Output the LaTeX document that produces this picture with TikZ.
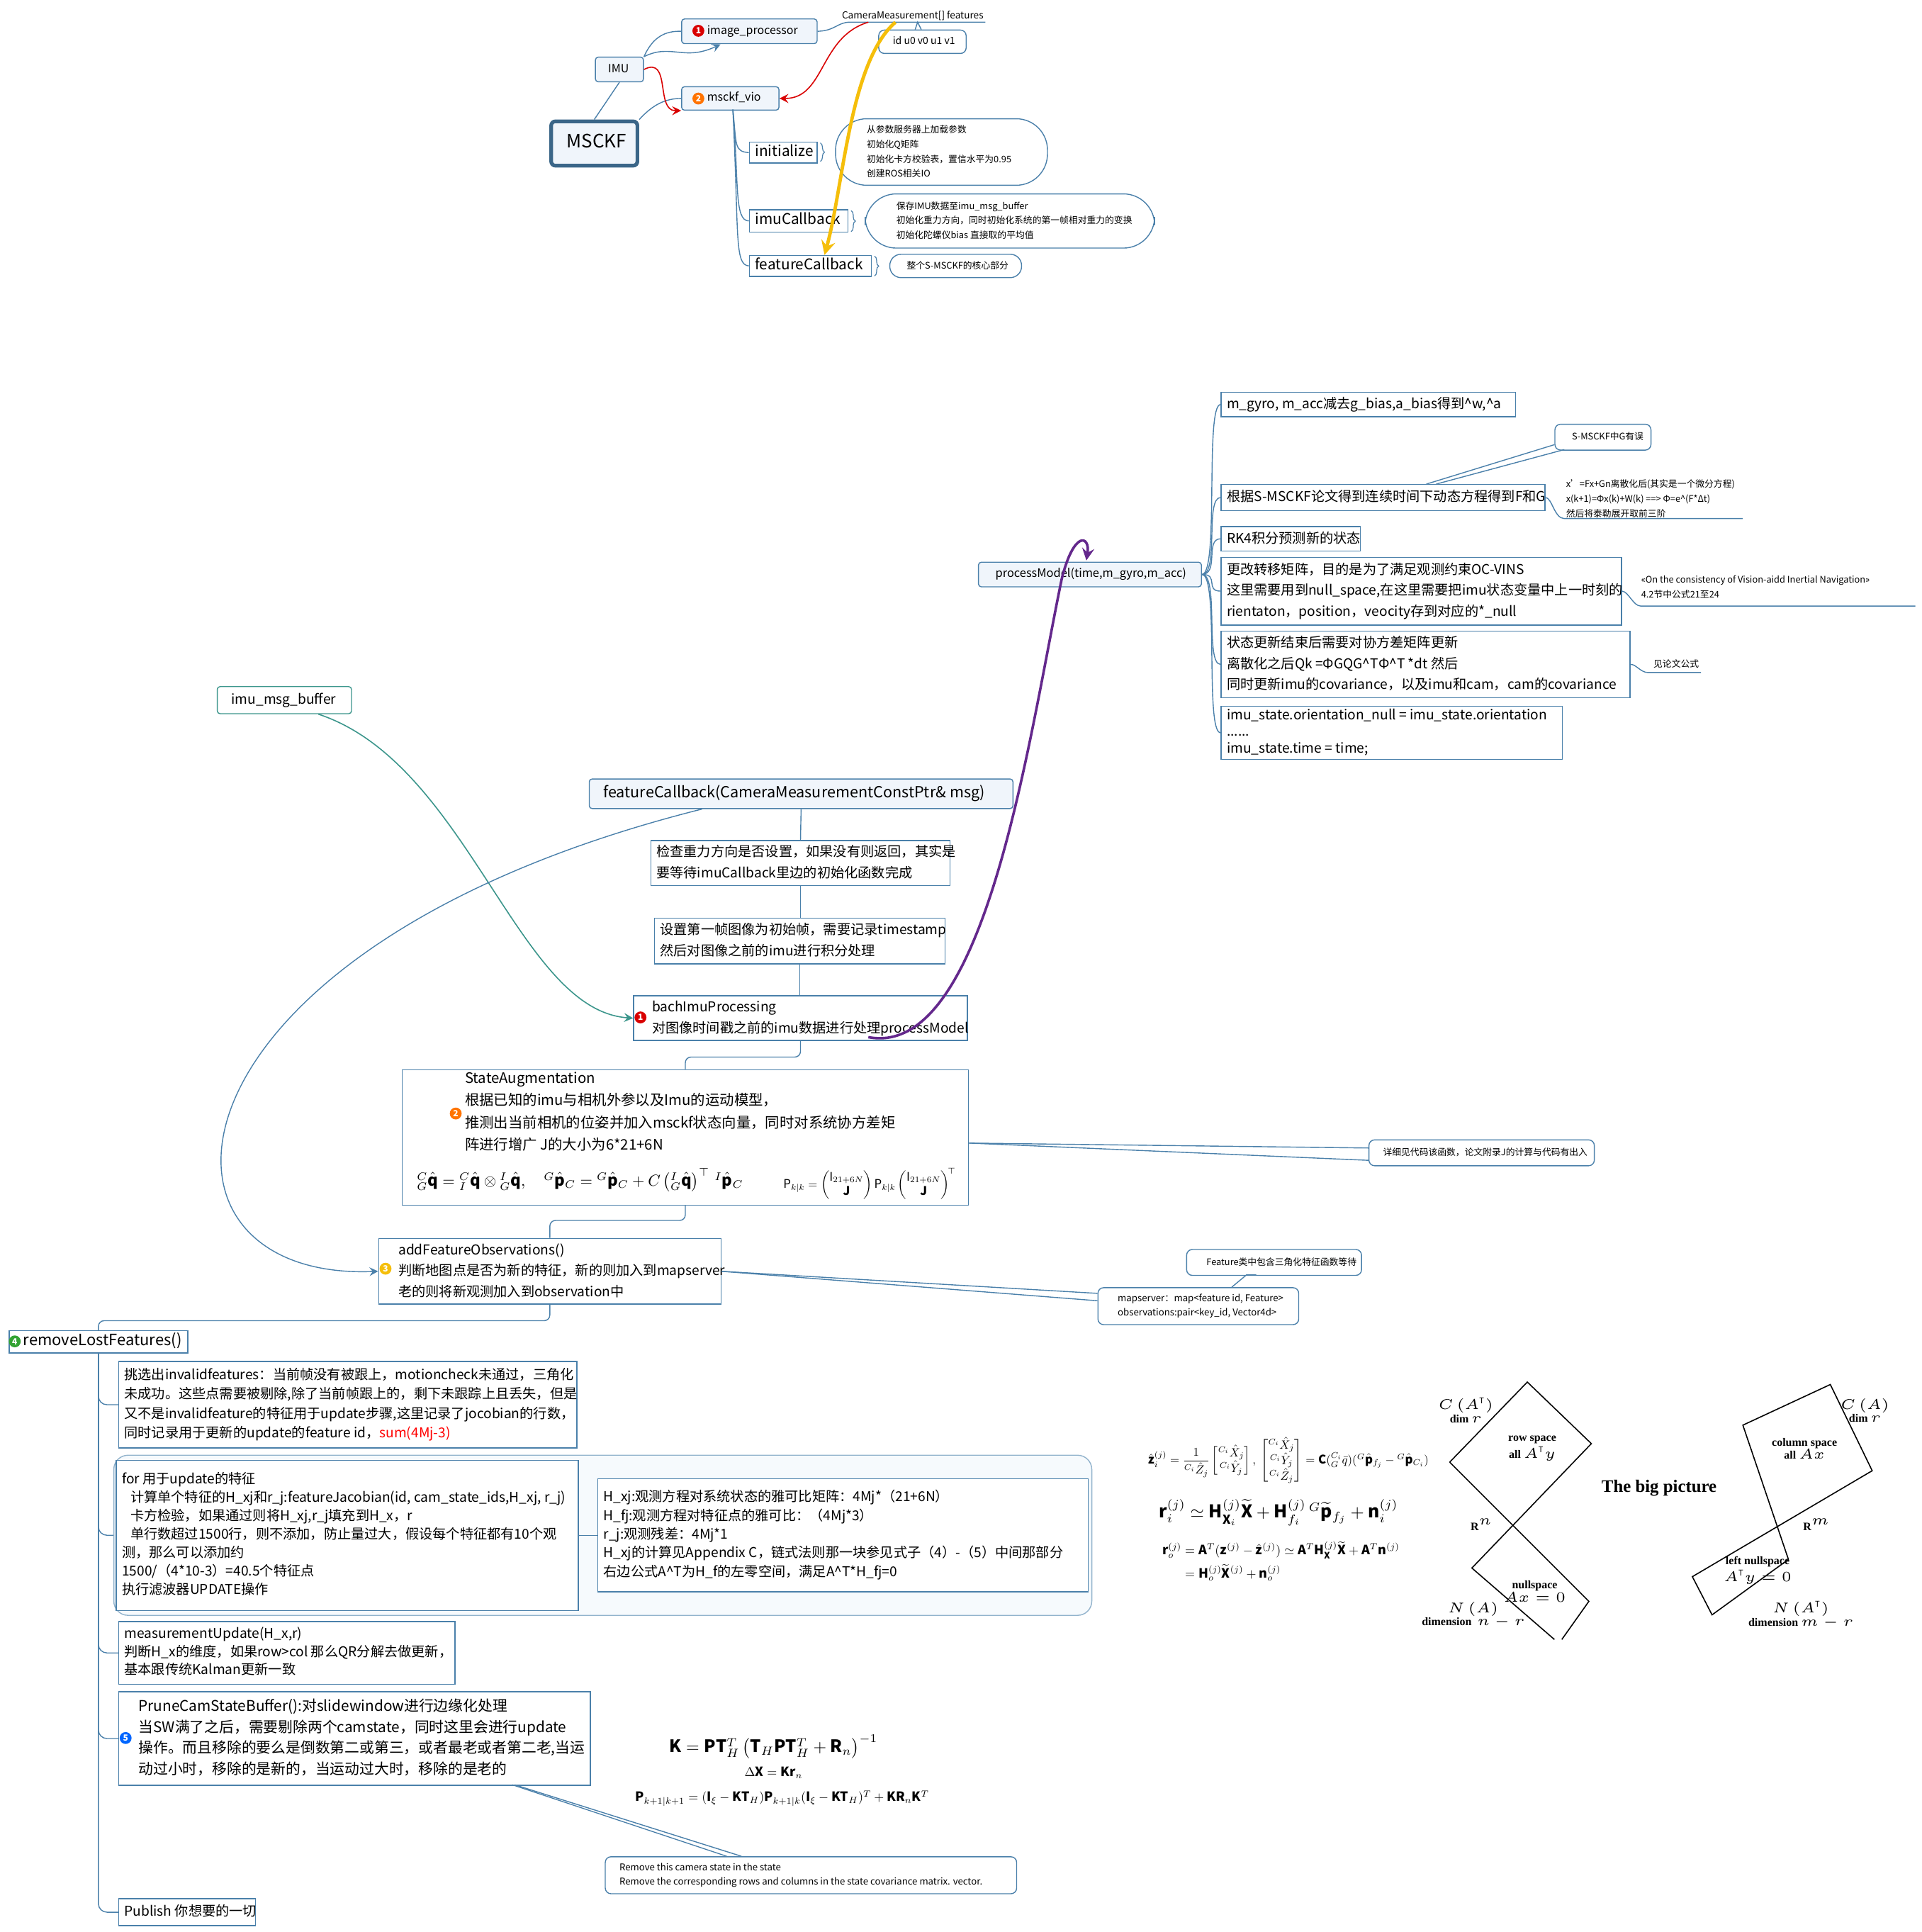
\documentclass[tikz,border=0pt]{standalone}
\usepackage{amsmath,amssymb}
\usepackage{fontspec}
\setmainfont{Noto Sans CJK SC}
\newfontfamily\tnr{Liberation Serif}
\usetikzlibrary{decorations.pathreplacing}
\definecolor{bl}{RGB}{74,128,170}
\definecolor{tpf}{RGB}{240,245,251}
\definecolor{grpf}{RGB}{246,250,253}
\definecolor{ylw}{RGB}{245,190,10}
\definecolor{prp}{RGB}{100,40,140}
\definecolor{tl}{RGB}{60,150,140}
\newcommand\fm{\fontsize{4.8pt}{7.4pt}\selectfont}
\newcommand\fs{\fontsize{3.2pt}{5.2pt}\selectfont}
\newcommand\ftp{\fontsize{4pt}{5pt}\selectfont}
\def\mylsk{0pt}
\newcommand\mynode[7]{%
  \pgfmathsetlengthmacro\mytw{(#4)*0.4345pt-4pt}%
  \pgfmathsetlengthmacro\mymh{(#5)*0.4345pt}%
  \node[bx,#6,minimum height=\mymh] (#1) at (#2,#3) {\makebox[\mytw][l]{\begin{tabular}{@{\hspace{\mylsk}}l@{}}#7\end{tabular}}};}
\tikzset{
  bx/.style={draw=bl,line width=0.35pt,fill=white,inner xsep=2pt,inner ysep=0.5pt,anchor=north west,font=\fm},
  tp/.style={fill=tpf,rounded corners=1pt,font=\ftp},
  note/.style={rounded corners=2pt,font=\fs},
  bub/.style={rounded corners=11pt,font=\fs},
  cn/.style={draw=bl,line width=0.35pt},
  num/.style={circle,inner sep=0pt,minimum size=4.2pt,text=white,font=\fontsize{3pt}{3pt}\selectfont\bfseries},
  lbl/.style={font=\tnr\bfseries\fontsize{4pt}{4.6pt}\selectfont,align=center},
  br/.style={draw=bl,line width=0.3pt,decorate,decoration={brace,amplitude=1.5pt}}
}
\begin{document}
\begin{tikzpicture}[x=0.4345pt,y=-0.4345pt]
\fill[white] (0,0) rectangle (1560,1568.5);
\useasboundingbox (0,0) rectangle (1560,1568.5);
% ---------- top ----------
\def\mylsk{3.5pt}
\mynode{msckf}{446}{97}{70}{36}{fill=tpf,draw=bl!80!black,line width=1.3pt,rounded corners=1.5pt,font=\fontsize{6.5pt}{7pt}\selectfont}{MSCKF}
\def\mylsk{2.5pt}
\mynode{imu}{483}{46}{39}{20}{tp}{IMU}
\def\mylsk{7pt}
\mynode{imgp}{553}{15}{110}{20}{tp}{image\_processor}
\mynode{vio}{553}{70}{79}{19}{tp}{msckf\_vio}
\def\mylsk{0pt}
\node[num,fill=red!85!black] (n1) at (567,25) {1};
\node[num,fill=orange!90!red] (n2) at (567,80) {2};
\node[font=\fontsize{3.4pt}{4pt}\selectfont,anchor=base] (cm) at (741,15) {CameraMeasurement[] features};
\coordinate (cmL) at (690,18); \coordinate (cmR) at (800,18);
\coordinate (cmr) at (705,18); \coordinate (cmy) at (727,18);
\draw[cn] (imgp.east) .. controls (678,25) and (680,18) .. (cmL) -- (cmR);
\def\mylsk{3pt}
\mynode{idb}{713}{24}{71}{19}{note,font=\fontsize{3.5pt}{4pt}\selectfont}{id u0 v0 u1 v1}
\def\mylsk{0pt}
\draw[cn] (743,24) -- (745,18) -- (748,24);
\mynode{init}{608}{115}{55}{17}{font=\fontsize{5.2pt}{6pt}\selectfont}{initialize}
\mynode{imucb}{608}{170}{80}{18}{font=\fontsize{5.2pt}{6pt}\selectfont}{imuCallback}
\mynode{fcb}{608}{207}{99}{17}{font=\fontsize{5.2pt}{6pt}\selectfont}{featureCallback}
\draw[br] (666,116) -- (666,131);
\draw[br] (691,171) -- (691,188);
\draw[br] (710,208) -- (710,224);
\def\mylsk{9pt}
\mynode{bi}{678}{96}{172}{54}{bub}{从参数服务器上加载参数\\初始化Q矩阵\\初始化卡方校验表，置信水平为0.95\\创建ROS相关IO}
\mynode{bc}{702}{157}{235}{44}{bub}{保存IMU数据至imu\_msg\_buffer\\初始化重力方向，同时初始化系统的第一帧相对重力的变换\\初始化陀螺仪bias 直接取的平均值}
\def\mylsk{4pt}
\mynode{bf}{722}{206}{107}{19}{bub,rounded corners=4pt}{整个S-MSCKF的核心部分}
\def\mylsk{0pt}
\draw[cn] (msckf.north) -- (imu.south);
\draw[cn] (msckf.north east) .. controls (530,85) and (540,80) .. (vio.west);
\draw[cn] (imu.north east) .. controls (530,30) and (540,25) .. (imgp.west);
\draw[cn,-stealth] (imu.north east) .. controls (545,35) and (555,50) .. (585,36);
\draw[red!85!black,line width=0.4pt,-stealth] (imu.east) .. controls (545,45) and (532,90) .. (vio.south west);
\draw[red!85!black,line width=0.4pt,-stealth] (cmr) .. controls (665,30) and (670,80) .. (vio.east);
\draw[ylw,line width=1.2pt,-stealth] (cmy) .. controls (690,50) and (685,150) .. ([xshift=5pt]fcb.north);
\coordinate (vb) at (595,89);
\draw[cn] (vb) .. controls (598,118) and (596,123) .. (init.west);
\draw[cn] (vb) .. controls (600,150) and (596,179) .. (imucb.west);
\draw[cn] (vb) .. controls (600,190) and (596,215) .. (fcb.west);
% ---------- processModel ----------
\def\mylsk{4pt}
\mynode{pm}{794}{456}{181}{20}{tp,font=\fontsize{4.1pt}{5pt}\selectfont}{processModel(time,m\_gyro,m\_acc)}
\def\mylsk{0pt}
\mynode{r1}{991}{318}{239}{20}{}{m\_gyro, m\_acc减去g\_bias,a\_bias得到\textasciicircum w,\textasciicircum a}
\mynode{r2}{991}{393}{263}{21}{}{根据S-MSCKF论文得到连续时间下动态方程得到F和G}
\def\mylsk{4pt}
\mynode{smg}{1262}{344}{78}{21}{note}{S-MSCKF中G有误}
\def\mylsk{0pt}
\draw[cn] (1158,393) -- (1262,361); \draw[cn] (1166,393) -- (1270,365);
\node[font=\fs,anchor=north west,align=left,inner sep=0pt] (r2n) at (1271,389) {x'=Fx+Gn离散化后(其实是一个微分方程)\\x(k+1)=Φx(k)+W(k) ==> Φ=e\textasciicircum(F*Δt)\\然后将泰勒展开取前三阶};
\draw[cn] (r2.east) .. controls (1260,404) and (1262,421) .. (1270,421) -- (1415,421);
\mynode{r3}{991}{427}{113}{20}{}{RK4积分预测新的状态}
\mynode{r4}{991}{452}{325}{55}{}{更改转移矩阵，目的是为了满足观测约束OC-VINS\\这里需要用到null\_space,在这里需要把imu状态变量中上一时刻的\\rientaton，position，veocity存到对应的*\_null}
\node[font=\fs,anchor=north west,align=left,inner sep=0pt] (r4n) at (1332,467) {<<On the consistency of Vision-aidd Inertial Navigation>>\\4.2节中公式21至24};
\draw[cn] (r4.east) .. controls (1322,480) and (1326,492) .. (1332,492) -- (1555,492);
\mynode{r5}{991}{512}{332}{54}{}{状态更新结束后需要对协方差矩阵更新\\离散化之后Qk =ΦGQG\textasciicircum TΦ\textasciicircum T *dt 然后\\同时更新imu的covariance，以及imu和cam，cam的covariance}
\node[font=\fs,anchor=west,inner sep=0pt] (r5n) at (1342,539) {见论文公式};
\draw[cn] (r5.east) .. controls (1328,539) and (1332,546) .. (1338,546) -- (1381,546);
\mynode{r6}{991}{573}{277}{41}{font=\fontsize{4.8pt}{5.9pt}\selectfont}{imu\_state.orientation\_null = imu\_state.orientation\\......\\imu\_state.time = time;}
\foreach \n in {r1,r2,r3,r4,r5,r6}{\draw[cn] (pm.east) .. controls (990,466) and (978,0|-\n.west) .. (\n.west);}
% ---------- center column ----------
\def\mylsk{3pt}
\mynode{imb}{176}{557}{109}{22}{draw=tl,rounded corners=1pt}{imu\_msg\_buffer}
\mynode{fcm}{478}{632}{344}{24}{fill=tpf,rounded corners=1pt,font=\fontsize{5.4pt}{6pt}\selectfont}{featureCallback(CameraMeasurementConstPtr\& msg)}
\def\mylsk{0pt}
\mynode{c1}{528}{682}{243}{36}{}{检查重力方向是否设置，如果没有则返回，其实是\\要等待imuCallback里边的初始化函数完成}
\mynode{c2}{531}{745}{236}{37}{}{设置第一帧图像为初始帧，需要记录timestamp\\然后对图像之前的imu进行积分处理}
\def\mylsk{4.5pt}
\mynode{bach}{514}{808}{271}{34}{}{bachImuProcessing\\对图像时间戳之前的imu数据进行处理processModel}
\def\mylsk{0pt}
\node[num,fill=red!85!black] (nb) at (520,826) {1};
\mynode{sa}{326}{868}{460}{110}{}{}
\node[anchor=north west,align=left,inner sep=0pt,font=\fontsize{5.1pt}{7.8pt}\selectfont] (sat) at (377,870) {StateAugmentation\\根据已知的imu与相机外参以及Imu的运动模型，\\推测出当前相机的位姿并加入msckf状态向量，同时对系统协方差矩\\阵进行增广 J的大小为6*21+6N};
\node[num,fill=orange!90!red] (nsa) at (370,904) {2};
\node[scale=0.56] (saf1) at (471,958) {$^C_G\hat{\mathbf q} = {}^C_I\hat{\mathbf q}\otimes {}^I_G\hat{\mathbf q},\quad {}^G\hat{\mathbf p}_C = {}^G\hat{\mathbf p}_C + C\left({}^I_G\hat{\mathbf q}\right)^{\top}\,{}^I\hat{\mathbf p}_C$};
\node[scale=0.42] (saf2) at (706,961) {$\mathrm P_{k|k}=\begin{pmatrix}\mathrm I_{21+6N}\\ \mathbf J\end{pmatrix}\mathrm P_{k|k}\begin{pmatrix}\mathrm I_{21+6N}\\ \mathbf J\end{pmatrix}^{\!\top}$};
\def\mylsk{3pt}
\mynode{san}{1111}{925}{183}{21}{note}{详细见代码该函数，论文附录J的计算与代码有出入}
\def\mylsk{0pt}
\draw[cn] (sa.east |- 0,928) -- (1111,932); \draw[cn] (sa.east |- 0,928) -- (1111,942);
\def\mylsk{5pt}
\mynode{add}{307}{1005}{278}{49}{}{addFeatureObservations()\\判断地图点是否为新的特征，新的则加入到mapserver\\老的则将新观测加入到observation中}
\node[num,fill=ylw] (na) at (313,1030) {3};
\mynode{fn}{963}{1014}{142}{21}{note}{Feature类中包含三角化特征函数等待}
\mynode{mn}{891}{1045}{163}{30}{note,font=\fontsize{3.3pt}{5pt}\selectfont}{mapserver：map<feature id, Feature>\\observations:pair<key\_id, Vector4d>}
\def\mylsk{0pt}
\draw[cn] (add.east) -- (891,1050); \draw[cn] (add.east) -- (891,1056);
\draw[cn] (1000,1045) -- (1012,1035) -- (1020,1035);
\draw[cn] (fcm.south) -- (c1.north);
\draw[cn] (c1.south) -- (c1.south |- c2.north);
\draw[cn] (c2.south) -- (c2.south |- bach.north);
\draw[cn,rounded corners=2pt] (bach.south) -- ++(0,13) -| (sa.north);
\draw[cn,rounded corners=2pt] (sa.south) -- ++(0,12) -| (add.north);
% ---------- bottom-left ----------
\def\mylsk{3pt}
\mynode{rlf}{7}{1080}{145}{18}{font=\fontsize{5.5pt}{6.5pt}\selectfont}{removeLostFeatures()}
\def\mylsk{0pt}
\node[num,fill=green!55!black!80] (n4) at (12,1089) {4};
\draw[cn,rounded corners=2pt] (add.south) -- ++(0,13) -| (rlf.north);
\mynode{b1}{96}{1105}{372}{70}{font=\fontsize{4.8pt}{6.9pt}\selectfont}{挑选出invalidfeatures：当前帧没有被跟上，motioncheck未通过，三角化\\未成功。这些点需要被剔除,除了当前帧跟上的，剩下未跟踪上且丢失，但是\\又不是invalidfeature的特征用于update步骤,这里记录了jocobian的行数，\\同时记录用于更新的update的feature id，\textcolor{red}{sum(4Mj-3)}}
\mynode{grp}{92}{1181}{794}{130}{fill=grpf,draw=bl!60,rounded corners=5pt}{}
\mynode{b2}{94}{1185}{375}{122}{font=\fontsize{4.8pt}{6.5pt}\selectfont}{for 用于update的特征\\\hspace*{3pt}计算单个特征的H\_xj和r\_j:featureJacobian(id, cam\_state\_ids,H\_xj, r\_j)\\\hspace*{3pt}卡方检验，如果通过则将H\_xj,r\_j填充到H\_x，r\\\hspace*{3pt}单行数超过1500行，则不添加，防止量过大，假设每个特征都有10个观\\测，那么可以添加约\\1500/（4*10-3）=40.5个特征点\\执行滤波器UPDATE操作}
\mynode{b3}{485}{1200}{398}{92}{font=\fontsize{4.8pt}{6.6pt}\selectfont}{H\_xj:观测方程对系统状态的雅可比矩阵：4Mj*（21+6N）\\H\_fj:观测方程对特征点的雅可比：（4Mj*3）\\r\_j:观测残差：4Mj*1\\H\_xj的计算见Appendix C，链式法则那一块参见式子（4）-（5）中间那部分\\右边公式A\textasciicircum T为H\_f的左零空间，满足A\textasciicircum T*H\_fj=0}
\draw[cn] (b2.east) -- (b3.west);
\mynode{mu}{96}{1316}{273}{51}{font=\fontsize{4.8pt}{6.4pt}\selectfont}{measurementUpdate(H\_x,r)\\判断H\_x的维度，如果row>col 那么QR分解去做更新，\\基本跟传统Kalman更新一致}
\def\mylsk{5pt}
\mynode{pr}{96}{1373}{383}{76}{font=\fontsize{5.2pt}{7.4pt}\selectfont}{PruneCamStateBuffer():对slidewindow进行边缘化处理\\当SW满了之后，需要剔除两个camstate，同时这里会进行update\\操作。而且移除的要么是倒数第二或第三，或者最老或者第二老,当运\\动过小时，移除的是新的，当运动过大时，移除的是老的}
\node[num,fill=blue!60!cyan] (n5) at (102,1411) {5};
\def\mylsk{3pt}
\mynode{rmn}{491}{1507}{334}{30}{note,font=\fontsize{3.3pt}{5pt}\selectfont}{Remove this camera state in the state\\Remove the corresponding rows and columns in the state covariance matrix. vector.}
\def\mylsk{0pt}
\draw[cn] (416,1449) -- (590,1507); \draw[cn] (418,1449) -- (602,1507);
\mynode{pub}{96}{1541}{111}{22}{}{Publish 你想要的一切}
\foreach \n in {b1,grp,mu,pr,pub}{\draw[cn,rounded corners=3pt] (rlf.south) |- (\n.west);}
% long curves
\draw[tl,line width=0.4pt,-stealth] ([xshift=12pt]imb.south) .. controls (380,620) and (420,820) .. (bach.west);
\draw[cn,-stealth] ([xshift=40pt]fcm.south west) .. controls (120,770) and (100,1040) .. (add.west);
\coordinate (ps) at (705,842);
\draw[prp,line width=0.9pt,-stealth] (ps) .. controls (800,860) and (835,600) .. (862,470) .. controls (872,430) and (885,435) .. (882,455);
% ---------- formulas ----------
\node[scale=0.42] (fz) at (1046,1186) {$\hat{\mathbf z}_i^{(j)} = \dfrac{1}{{}^{C_i}\hat Z_j}\begin{bmatrix}{}^{C_i}\hat X_j\\ {}^{C_i}\hat Y_j\end{bmatrix},\ \begin{bmatrix}{}^{C_i}\hat X_j\\{}^{C_i}\hat Y_j\\{}^{C_i}\hat Z_j\end{bmatrix} = \mathbf C({}^{C_i}_G\bar q)({}^G\hat{\mathbf p}_{f_j}-{}^G\hat{\mathbf p}_{C_i})$};
\node[scale=0.62] (fr) at (1038,1228) {$\mathbf r_i^{(j)} \simeq \mathbf H_{\mathbf X_i}^{(j)}\widetilde{\mathbf X} + \mathbf H_{f_i}^{(j)}\,{}^G\widetilde{\mathbf p}_{f_j} + \mathbf n_i^{(j)}$};
\node[scale=0.45] (fo) at (1040,1268) {$\begin{aligned}\mathbf r_o^{(j)} &= \mathbf A^T(\mathbf z^{(j)}-\hat{\mathbf z}^{(j)}) \simeq \mathbf A^T\mathbf H_{\mathbf X}^{(j)}\widetilde{\mathbf X}+\mathbf A^T\mathbf n^{(j)}\\ &= \mathbf H_o^{(j)}\widetilde{\mathbf X}^{(j)}+\mathbf n_o^{(j)}\end{aligned}$};
\node[scale=0.6] (fk) at (628,1418) {$\mathbf K = \mathbf P\mathbf T_H^T\left(\mathbf T_H\mathbf P\mathbf T_H^T+\mathbf R_n\right)^{-1}$};
\node[scale=0.45] (fdx) at (628,1439) {$\Delta\mathbf X = \mathbf K\mathbf r_n$};
\node[scale=0.45] (fp) at (635,1460) {$\mathbf P_{k+1|k+1} = (\mathbf I_\xi-\mathbf K\mathbf T_H)\mathbf P_{k+1|k}(\mathbf I_\xi-\mathbf K\mathbf T_H)^T+\mathbf K\mathbf R_n\mathbf K^T$};
% ---------- big picture ----------
\draw[line width=0.4pt] (1177,1187) -- (1240,1122) -- (1292,1172) -- (1195,1273) -- (1262,1331);
\draw[line width=0.4pt] (1177,1187) -- (1290,1300) -- (1268,1331);
\draw[line width=0.4pt] (1452,1266) -- (1415,1157) -- (1486,1124) -- (1520,1194) -- (1374,1280) -- (1390,1311) -- (1452,1266);
\node[lbl] (l1) at (1190,1145) {$C\,(A^{\mathrm T})$\\dim $r$};
\node[lbl] (l2) at (1244,1176) {row space\\all $A^{\mathrm T}y$};
\node[lbl] (l3) at (1203,1238) {R$^n$};
\node[lbl] (l4) at (1246,1292) {nullspace\\$Ax=0$};
\node[lbl] (l5) at (1196,1311) {$N\,(A)$\\dimension\ \ $n-r$};
\node[lbl,font=\tnr\bfseries\fontsize{6.2pt}{7pt}\selectfont] (l6) at (1347,1208) {The big picture};
\node[lbl] (l7) at (1465,1176) {column space\\all $Ax$};
\node[lbl] (l8) at (1514,1145) {$C\,(A)$\\dim $r$};
\node[lbl] (l9) at (1475,1238) {R$^m$};
\node[lbl] (l10) at (1427,1275) {left nullspace\\$A^{\mathrm T}y=0$};
\node[lbl] (l11) at (1462,1311) {$N\,(A^{\mathrm T})$\\dimension $m-r$};
\end{tikzpicture}
\end{document}
